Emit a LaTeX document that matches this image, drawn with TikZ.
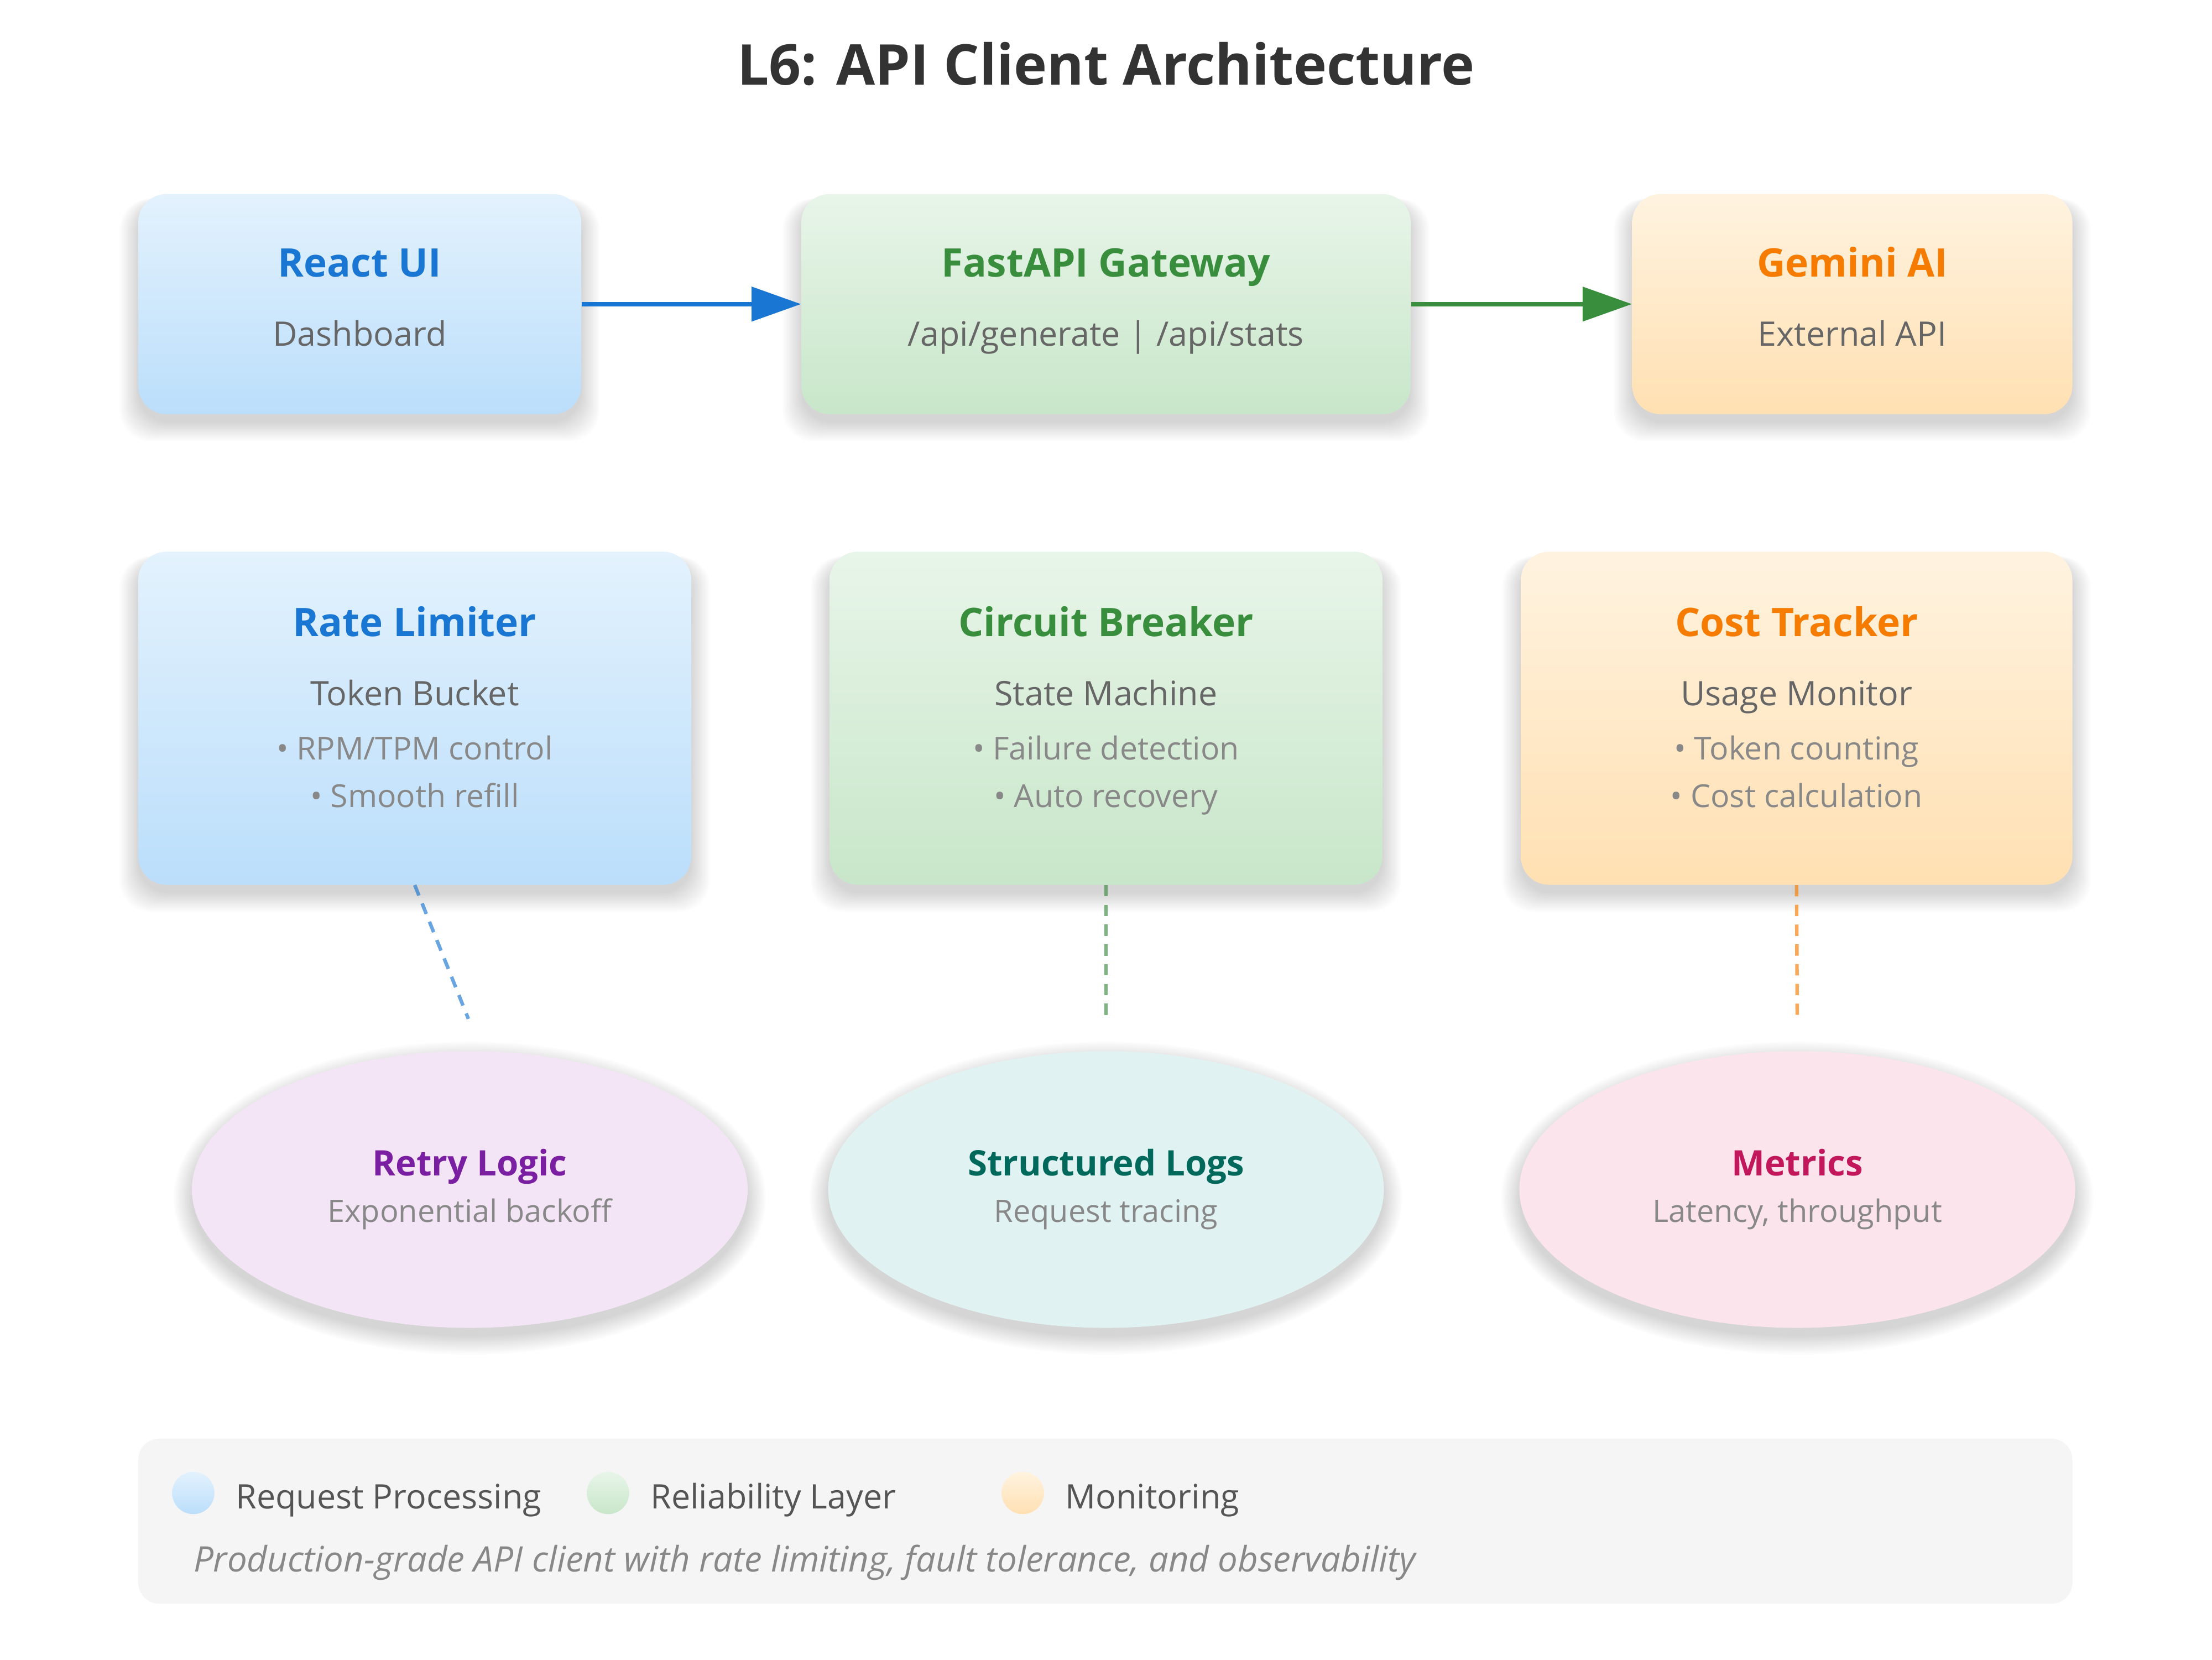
\documentclass[tikz,border=0pt]{standalone}
\usepackage{fontspec}
\setmainfont{Open Sans}
\usetikzlibrary{arrows.meta,shapes.geometric}
\definecolor{blueTop}{HTML}{E3F2FD}
\definecolor{blueBot}{HTML}{BBDEFB}
\definecolor{greenTop}{HTML}{E8F5E9}
\definecolor{greenBot}{HTML}{C8E6C9}
\definecolor{orangeTop}{HTML}{FFF3E0}
\definecolor{orangeBot}{HTML}{FFE0B2}
\definecolor{blueT}{HTML}{1976D2}
\definecolor{greenT}{HTML}{388E3C}
\definecolor{orangeT}{HTML}{F57C00}
\definecolor{purpleT}{HTML}{7B1FA2}
\definecolor{tealT}{HTML}{00695C}
\definecolor{pinkT}{HTML}{C2185B}
\definecolor{purpleF}{HTML}{F3E5F5}
\definecolor{tealF}{HTML}{E0F2F1}
\definecolor{pinkF}{HTML}{FCE4EC}
\definecolor{titleC}{HTML}{333333}
\definecolor{subC}{HTML}{666666}
\definecolor{bulC}{HTML}{888888}
\definecolor{legC}{HTML}{555555}
\definecolor{legF}{HTML}{F5F5F5}
\pgfdeclarelayer{bglayer}
\pgfdeclarelayer{shadowlayer}
\pgfsetlayers{bglayer,shadowlayer,main}
\newcommand{\boxshadow}[1]{%
  \begin{pgfonlayer}{shadowlayer}
  \foreach \k in {0,...,13}{%
    \fill[black, fill opacity=0.012, rounded corners=22bp]
      ([xshift=-\k bp, yshift=-6bp+\k bp*0.2]#1.north west) rectangle ([xshift=\k bp, yshift=-6bp-\k bp]#1.south east);
  }
  \end{pgfonlayer}}
\newcommand{\ovalshadow}[1]{%
  \begin{pgfonlayer}{shadowlayer}
  \foreach \k in {0,...,13}{%
    \fill[black, fill opacity=0.012] ([yshift=-6bp]#1.center) ellipse [x radius=197bp+\k bp, y radius=98bp+\k bp];
  }
  \end{pgfonlayer}}
\begin{document}
\begin{tikzpicture}[x=1bp,y=-1bp,
  box/.style={rectangle, rounded corners=20bp, inner sep=0pt, draw=none},
  oval/.style={ellipse, inner sep=0pt, draw=none, minimum width=394bp, minimum height=196bp},
  lbl/.style={inner sep=0pt, anchor=base},
  ttl/.style={lbl, font=\fontsize{28}{32}\selectfont\bfseries},
  sub/.style={lbl, text=subC, font=\fontsize{24}{28}\selectfont},
  bul/.style={lbl, text=bulC, font=\fontsize{22.5}{26}\selectfont},
  ettl/.style={lbl, font=\fontsize{25}{30}\selectfont\bfseries},
  esub/.style={lbl, text=bulC, font=\fontsize{22}{26}\selectfont},
  leg/.style={inner sep=0pt, anchor=base west, text=legC, font=\fontsize{24}{28}\selectfont},
  dot/.style={circle, inner sep=0pt, minimum size=30bp, draw=none},
  flow/.style={line width=3bp, -{Triangle[length=35bp, width=24bp]}},
  link/.style={line width=2.5bp, dash pattern=on 8bp off 6bp, draw opacity=0.65}
]
\begin{pgfonlayer}{bglayer}
\useasboundingbox[fill=white] (0,0) rectangle (1568,1176);
\end{pgfonlayer}

\node[lbl, text=titleC, font=\fontsize{40}{46}\selectfont\bfseries] (title) at (784,60) {L6: API Client Architecture};

% top row
\node[box, top color=blueTop, bottom color=blueBot, minimum width=314bp, minimum height=156bp] (react) at (255,215.5) {};
\node[box, top color=greenTop, bottom color=greenBot, minimum width=432bp, minimum height=156bp] (gateway) at (784,215.5) {};
\node[box, top color=orangeTop, bottom color=orangeBot, minimum width=312bp, minimum height=156bp] (gemini) at (1313,215.5) {};
\boxshadow{react}\boxshadow{gateway}\boxshadow{gemini}

\node[ttl, text=blueT] (reactT) at (255,196) {React UI};
\node[sub] (reactS) at (255,245) {Dashboard};
\node[ttl, text=greenT] (gatewayT) at (784,196) {FastAPI Gateway};
\node[sub] (gatewayS) at (784,245) {/api/generate | /api/stats};
\node[ttl, text=orangeT] (geminiT) at (1313,196) {Gemini AI};
\node[sub] (geminiS) at (1313,245) {External API};

\draw[flow, blueT] (react.east) -- (gateway.west);
\draw[flow, greenT] (gateway.east) -- (gemini.west);

% second row
\node[box, top color=blueTop, bottom color=blueBot, minimum width=392bp, minimum height=236bp] (rate) at (294,509) {};
\node[box, top color=greenTop, bottom color=greenBot, minimum width=392bp, minimum height=236bp] (circuit) at (784,509) {};
\node[box, top color=orangeTop, bottom color=orangeBot, minimum width=391bp, minimum height=236bp] (cost) at (1273.5,509) {};
\boxshadow{rate}\boxshadow{circuit}\boxshadow{cost}

\node[ttl, text=blueT] (rateT) at (294,451) {Rate Limiter};
\node[sub] (rateS) at (294,500) {Token Bucket};
\node[bul] (rateB1) at (294,538.5) {• RPM/TPM control};
\node[bul] (rateB2) at (294,572) {• Smooth refill};

\node[ttl, text=greenT] (circuitT) at (784,451) {Circuit Breaker};
\node[sub] (circuitS) at (784,500) {State Machine};
\node[bul] (circuitB1) at (784,538.5) {• Failure detection};
\node[bul] (circuitB2) at (784,572) {• Auto recovery};

\node[ttl, text=orangeT] (costT) at (1273.5,451) {Cost Tracker};
\node[sub] (costS) at (1273.5,500) {Usage Monitor};
\node[bul] (costB1) at (1273.5,538.5) {• Token counting};
\node[bul] (costB2) at (1273.5,572) {• Cost calculation};

% ellipses
\node[oval, fill=purpleF] (retry) at (333,843) {};
\node[oval, fill=tealF] (logs) at (784,843) {};
\node[oval, fill=pinkF] (metrics) at (1274,843) {};
\ovalshadow{retry}\ovalshadow{logs}\ovalshadow{metrics}

\node[ettl, text=purpleT] (retryT) at (333,833) {Retry Logic};
\node[esub] (retryS) at (333,866) {Exponential backoff};
\node[ettl, text=tealT] (logsT) at (784,833) {Structured Logs};
\node[esub] (logsS) at (784,866) {Request tracing};
\node[ettl, text=pinkT] (metricsT) at (1274,833) {Metrics};
\node[esub] (metricsS) at (1274,866) {Latency, throughput};

% dashed links
\coordinate (rateEnd) at (332,722);
\coordinate (circuitEnd) at (784,724);
\coordinate (costEnd) at (1274,724);
\draw[link, blueT] (rate.south) -- (rateEnd);
\draw[link, greenT] (circuit.south) -- (circuitEnd);
\draw[link, orangeT] (cost.south) -- (costEnd);

% legend
\node[rectangle, rounded corners=15bp, fill=legF, inner sep=0pt, minimum width=1371bp, minimum height=117bp] (legend) at (783.5,1078) {};
\node[dot, top color=blueTop, bottom color=blueBot] (d1) at (137,1058) {};
\node[dot, top color=greenTop, bottom color=greenBot] (d2) at (431,1058) {};
\node[dot, top color=orangeTop, bottom color=orangeBot] (d3) at (725,1058) {};
\node[leg] (l1) at (167,1069) {Request Processing};
\node[leg] (l2) at (461,1069) {Reliability Layer};
\node[leg] (l3) at (755,1069) {Monitoring};
\node[inner sep=0pt, anchor=base west, text=bulC, font=\fontsize{25}{29}\selectfont\itshape] (note) at (137,1114) {Production-grade API client with rate limiting, fault tolerance, and observability};
\end{tikzpicture}
\end{document}
